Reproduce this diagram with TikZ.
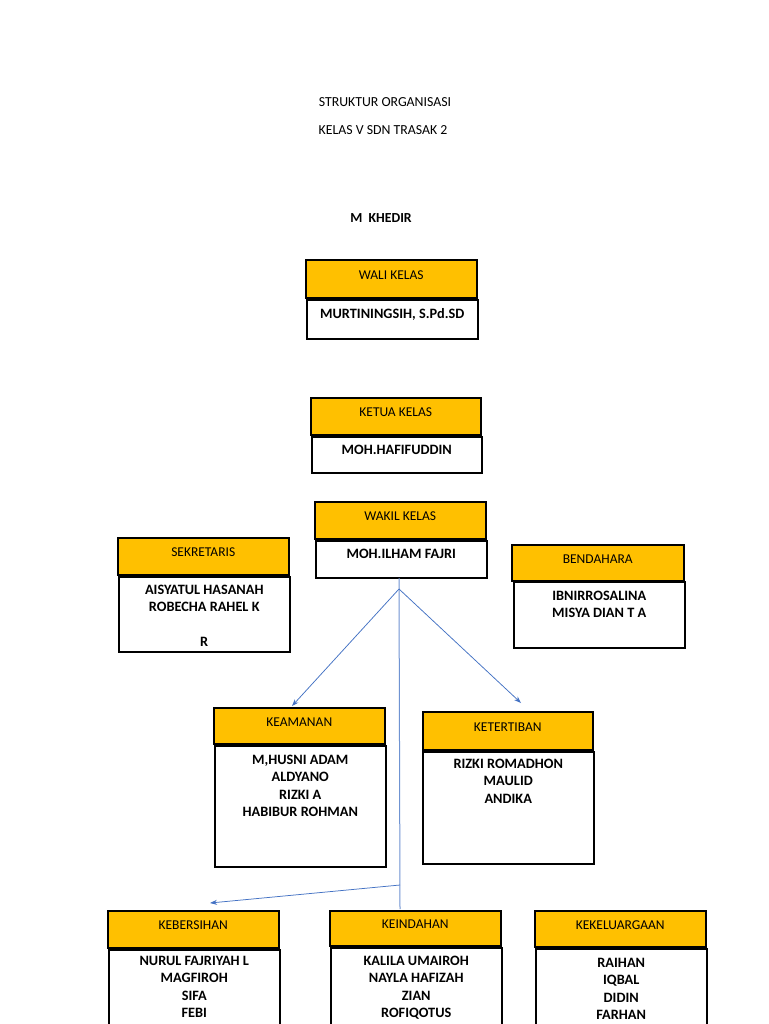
\documentclass[tikz,border=0pt]{standalone}
\usepackage{fontspec}
\setmainfont{Carlito}
\usetikzlibrary{arrows.meta}
\definecolor{hdrfill}{HTML}{FFC000}
\definecolor{linkblue}{HTML}{4472C4}
\definecolor{stemblue}{HTML}{6F93D2}
\begin{document}
\begin{tikzpicture}[x=1pt,y=-1pt,
  hdr/.style={draw=black, line width=1.5pt, fill=hdrfill, anchor=north west, inner sep=0pt,
    minimum width=171pt, minimum height=37pt, text depth=8pt, font=\fontsize{13.5}{15}\selectfont},
  namebox/.style={draw=black, line width=1.5pt, fill=white, anchor=north west, inner sep=0pt, minimum width=171pt},
  names/.style={anchor=north, align=center, inner sep=0pt, font=\bfseries\fontsize{14.3}{17.3}\selectfont},
  titletext/.style={inner sep=0pt, font=\fontsize{13.8}{15}\selectfont},
  link/.style={draw=linkblue, line width=0.75pt},
  stem/.style={draw=stemblue, line width=1pt},
  tip/.style={-{Stealth[length=7pt,width=5pt]}}]
\clip (0,0) rectangle (768,1024);
\fill[white] (0,0) rectangle (768,1024);

% titles
\node[titletext] (t1) at (385,102) {STRUKTUR ORGANISASI};
\node[titletext] (t2) at (383,130) {KELAS V SDN TRASAK 2};
\node[titletext, font=\bfseries\fontsize{13.8}{15}\selectfont] (t3) at (381,218) {M\ \ KHEDIR};

% wali kelas
\node[hdr, minimum height=38pt] (walih) at (305,259) {WALI KELAS};
\node[namebox, minimum height=39pt] (walin) at (306,299) {};
\node[names] (walit) at ([yshift=-9pt]walin.north) {MURTININGSIH, S.Pd.SD};

% ketua kelas
\node[hdr, minimum width=170pt] (ketuah) at (310,397) {KETUA KELAS};
\node[namebox, minimum width=170pt, minimum height=36pt] (ketuan) at (311,436) {};
\node[names] (ketuat) at ([yshift=-9pt]ketuan.north) {MOH.HAFIFUDDIN};

% wakil kelas
\node[hdr] (wakilh) at (314,501) {WAKIL KELAS};
\node[namebox, minimum height=37pt] (wakiln) at (315,540) {};
\node[names] (wakilt) at ([yshift=-9pt]wakiln.north) {MOH.ILHAM FAJRI};

% sekretaris
\node[hdr] (sekh) at (117,537) {SEKRETARIS};
\node[namebox, minimum height=75pt] (sekn) at (118,576) {};
\node[names] (sekt) at ([yshift=-9pt]sekn.north) {AISYATUL HASANAH\\ROBECHA RAHEL K\\[17.3pt]R};

% bendahara
\node[hdr, minimum width=172pt, minimum height=36pt] (bendh) at (511,544) {BENDAHARA};
\node[namebox, minimum height=66pt] (bendn) at (513,581) {};
\node[names] (bendt) at ([yshift=-10pt]bendn.north) {IBNIRROSALINA\\MISYA DIAN T A};

% keamanan
\node[hdr, minimum height=36pt] (keamh) at (213,707) {KEAMANAN};
\node[namebox, minimum height=121pt] (keamn) at (214,745) {};
\node[names] (keamt) at ([yshift=-10pt]keamn.north) {M,HUSNI ADAM\\ALDYANO\\RIZKI A\\HABIBUR ROHMAN};

% ketertiban
\node[hdr, minimum width=170pt, minimum height=38pt] (ketth) at (422,711) {KETERTIBAN};
\node[namebox, minimum height=112pt] (kettn) at (422,751) {};
\node[names] (kettt) at ([yshift=-8pt]kettn.north) {RIZKI ROMADHON\\MAULID\\ANDIKA};

% kebersihan
\node[hdr] (kebh) at (107,910) {KEBERSIHAN};
\node[namebox, minimum height=90pt] (kebn) at (108,949) {};
\node[names] (kebt) at ([yshift=-7pt]kebn.north) {NURUL FAJRIYAH L\\MAGFIROH\\SIFA\\FEBI};

% keindahan
\node[hdr, minimum height=35pt] (keinh) at (329,910) {KEINDAHAN};
\node[namebox, minimum height=90pt] (kein) at (330,947) {};
\node[names] (keint) at ([yshift=-9pt]kein.north) {KALILA UMAIROH\\NAYLA HAFIZAH\\ZIAN\\ROFIQOTUS};

% kekeluargaan
\node[hdr, minimum height=36pt] (kekh) at (534,910) {KEKELUARGAAN};
\node[namebox, minimum height=90pt] (kekn) at (535,948) {};
\node[names] (kekt) at ([yshift=-10pt]kekn.north) {RAIHAN\\IQBAL\\DIDIN\\FARHAN};

% connectors
\coordinate (stemtop) at (399,578);
\coordinate (branch) at (399,589);
\coordinate (side) at (400,885);
\coordinate (stembot) at (400,909);
\coordinate (keamtip) at (292,706);
\coordinate (ketttip) at (521,703);
\coordinate (kebtip) at (210,903);
\draw[stem] (stemtop) -- (stembot);
\draw[link, tip] (branch) -- (keamtip);
\draw[link, tip] (branch) -- (ketttip);
\draw[link, tip] (side) -- (kebtip);
\end{tikzpicture}
\end{document}
